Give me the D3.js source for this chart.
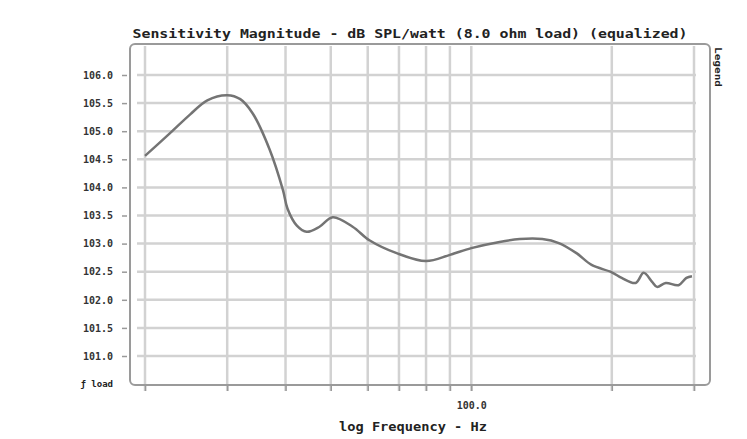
<!DOCTYPE html>
<html><head><meta charset="utf-8">
<script src="https://cdn.jsdelivr.net/npm/d3@7"></script>
<style>body{margin:0;background:#fff}svg{display:block}</style>
</head><body>
<script>
const freqs = [20,22.6,25,27.2,30,32,34,37,39.5,40.4,42.3,44.4,47.3,50.5,55.7,60.5,69.2,80,90,100,115,127,142,154,168,181,200,210,225,234,244,250,261,278,289,297];
const spl   = [104.56,104.96,105.3,105.55,105.64,105.57,105.32,104.67,103.95,103.62,103.32,103.21,103.3,103.47,103.3,103.06,102.83,102.69,102.8,102.92,103.03,103.08,103.08,103.01,102.83,102.62,102.49,102.39,102.3,102.48,102.32,102.23,102.3,102.26,102.39,102.42];
const gridFreqs = [20,30,40,50,60,70,80,90,100,200,300];
const xLabels = [100];
const yTicks = [106,105.5,105,104.5,104,103.5,103,102.5,102,101.5,101];
const title = "Sensitivity Magnitude - dB SPL/watt (8.0 ohm load) (equalized)";
const xTitle = "log Frequency - Hz";
const bottomLeft = "ƒ load";

const W=747,H=439;
const svg=d3.select("body").append("svg").attr("width",W).attr("height",H);
const x=d3.scaleLog().domain([20,300]).range([145,694]);
const y=d3.scaleLinear().domain([101,106]).range([356,75]);
const gridC="#d2d2d2", frameC="#9a9a9a";

// gridlines
svg.append("g").selectAll("line").data(yTicks).join("line")
  .attr("x1",x(20)-8).attr("x2",x(300)+2)
  .attr("y1",d=>y(d)).attr("y2",d=>y(d))
  .attr("stroke",gridC).attr("stroke-width",2.5);
svg.append("g").selectAll("line").data(gridFreqs).join("line")
  .attr("x1",d=>x(d)).attr("x2",d=>x(d))
  .attr("y1",46).attr("y2",391)
  .attr("stroke",gridC).attr("stroke-width",2.5);

// frame
svg.append("rect").attr("x",130).attr("y",44).attr("width",580).attr("height",341)
  .attr("rx",5).attr("fill","none").attr("stroke",frameC).attr("stroke-width",2);

// y axis ticks + labels
const yAxis=d3.axisLeft(y).tickValues(yTicks).tickSize(5).tickPadding(9).tickFormat(d3.format(".1f"));
const ya=svg.append("g").attr("transform","translate(127,0)").call(yAxis);
ya.select(".domain").remove();
ya.selectAll("line").attr("stroke",frameC).attr("stroke-width",1.5);
ya.selectAll("text").attr("font-family","'DejaVu Sans Mono', monospace").attr("font-weight","bold")
  .attr("font-size",10).attr("fill","#333");

// x axis ticks + labels
const xAxis=d3.axisBottom(x).tickValues(gridFreqs).tickSize(6).tickPadding(11)
  .tickFormat(d=>xLabels.includes(d)?d3.format(".1f")(d):"");
const xa=svg.append("g").attr("transform","translate(0,385)").call(xAxis);
xa.select(".domain").remove();
xa.selectAll("line").attr("stroke",frameC).attr("stroke-width",1.5);
xa.selectAll("text").attr("font-family","'DejaVu Sans Mono', monospace").attr("font-weight","bold")
  .attr("font-size",10).attr("fill","#333");

// curve
const line=d3.line().x((d,i)=>x(freqs[i])).y(d=>y(d)).curve(d3.curveCatmullRom.alpha(0.5));
svg.append("path").datum(spl).attr("d",line).attr("fill","none")
  .attr("stroke","#747474").attr("stroke-width",2.5);

// texts
svg.append("text").attr("x",410).attr("y",38).attr("text-anchor","middle")
  .attr("font-family","'DejaVu Sans Mono', monospace").attr("font-weight","bold")
  .attr("font-size",12).attr("textLength",555).attr("lengthAdjust","spacingAndGlyphs")
  .attr("fill","#222").text(title);
svg.append("text").attr("x",413).attr("y",431).attr("text-anchor","middle")
  .attr("font-family","'DejaVu Sans Mono', monospace").attr("font-weight","bold")
  .attr("font-size",12).attr("textLength",148).attr("lengthAdjust","spacingAndGlyphs")
  .attr("fill","#222").text(xTitle);
svg.append("text").attr("x",113).attr("y",387).attr("text-anchor","end")
  .attr("font-family","'DejaVu Sans Mono', monospace").attr("font-weight","bold")
  .attr("font-size",9).attr("fill","#222").text(bottomLeft);
svg.append("text").attr("transform","translate(715,47) rotate(90)")
  .attr("font-family","'DejaVu Sans Mono', monospace").attr("font-weight","bold")
  .attr("font-size",8).attr("fill","#222").attr("textLength",40).attr("lengthAdjust","spacingAndGlyphs")
  .text("Legend");
</script>
</body></html>
